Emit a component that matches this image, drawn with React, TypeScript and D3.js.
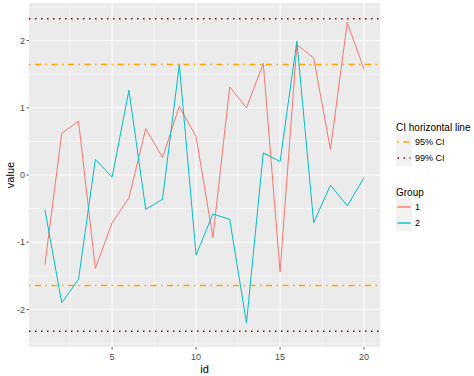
import React from "react";
import * as d3 from "d3";

const ids = d3.range(1, 21);
const group1 = [-1.33, 0.62, 0.80, -1.39, -0.71, -0.34, 0.69, 0.26, 1.02, 0.57, -0.93, 1.31, 1.00, 1.66, -1.44, 1.94, 1.74, 0.38, 2.27, 1.57];
const group2 = [-0.52, -1.90, -1.55, 0.23, -0.03, 1.26, -0.51, -0.36, 1.64, -1.19, -0.58, -0.66, -2.20, 0.33, 0.20, 1.99, -0.71, -0.15, -0.46, -0.04];
const groupNames = ["1", "2"];
const groupColors = ["#F8766D", "#00BFC4"];
const ciNames = ["95% CI", "99% CI"];
const ciValues = [1.645, 2.326];
const ciColors = ["#FFA500", "#8B0000"];
const ciDash = ["1.5,4.5,6,4.5", "1.5,4.5"];
const xTicks = [5, 10, 15, 20];
const yTicks = [-2, -1, 0, 1, 2];

const W = 474, H = 376;
const L = 29, R = 380, T = 3, B = 347;

export default function App() {
  const x = d3.scaleLinear().domain([0.05, 20.95]).range([L, R]);
  const lim = 2.326 * 1.1;
  const y = d3.scaleLinear().domain([-lim, lim]).range([B, T]);
  const line = d3.line<number>().x((_, i) => x(ids[i])).y((d) => y(d));
  const xMinor = [2.5, 7.5, 12.5, 17.5];
  const yMinor = [-2.5, -1.5, -0.5, 0.5, 1.5, 2.5].filter((v) => y(v) > T && y(v) < B);
  const font = "'Liberation Sans', Arial, sans-serif";
  const series = [group1, group2];
  const legX = 396;
  return (
    <svg width={W} height={H} style={{ position: "absolute", left: 0, top: 0 }} fontFamily={font}>
      <rect x={0} y={0} width={W} height={H} fill="#fff" />
      <rect x={L} y={T} width={R - L} height={B - T} fill="#EBEBEB" />
      {yMinor.map((v) => (
        <line key={"ym" + v} x1={L} x2={R} y1={y(v)} y2={y(v)} stroke="#fff" strokeWidth={0.5} />
      ))}
      {xMinor.map((v) => (
        <line key={"xm" + v} x1={x(v)} x2={x(v)} y1={T} y2={B} stroke="#fff" strokeWidth={0.5} />
      ))}
      {yTicks.map((v) => (
        <line key={"yM" + v} x1={L} x2={R} y1={y(v)} y2={y(v)} stroke="#fff" strokeWidth={1} />
      ))}
      {xTicks.map((v) => (
        <line key={"xM" + v} x1={x(v)} x2={x(v)} y1={T} y2={B} stroke="#fff" strokeWidth={1} />
      ))}
      {ciValues.map((v, i) =>
        [v, -v].map((vv) => (
          <line key={"ci" + i + vv} x1={L} x2={R} y1={y(vv)} y2={y(vv)} stroke={ciColors[i]} strokeWidth={1.5} strokeDasharray={ciDash[i]} />
        ))
      )}
      {series.map((s, i) => (
        <path key={"s" + i} d={line(s) || ""} fill="none" stroke={groupColors[i]} strokeWidth={1} />
      ))}
      {yTicks.map((v) => (
        <g key={"yt" + v}>
          <line x1={L - 2.5} x2={L} y1={y(v)} y2={y(v)} stroke="#333" strokeWidth={0.8} />
          <text x={L - 4} y={y(v)} dy="0.35em" textAnchor="end" fontSize={9} fill="#4D4D4D">{v < 0 ? "-" + Math.abs(v) : v}</text>
        </g>
      ))}
      {xTicks.map((v) => (
        <g key={"xt" + v}>
          <line x1={x(v)} x2={x(v)} y1={B} y2={B + 2.5} stroke="#333" strokeWidth={0.8} />
          <text x={x(v)} y={B + 13} textAnchor="middle" fontSize={9} fill="#4D4D4D">{v}</text>
        </g>
      ))}
      <text x={(L + R) / 2} y={373} textAnchor="middle" fontSize={11} fill="#000">id</text>
      <text transform={`translate(14,${(T + B) / 2}) rotate(-90)`} textAnchor="middle" fontSize={11} fill="#000">value</text>

      <text x={legX} y={131} fontSize={10} fill="#000">CI horizontal line</text>
      {ciNames.map((n, i) => (
        <g key={"cl" + i} transform={`translate(${legX},${134 + i * 16})`}>
          <rect width={16} height={16} fill="#F2F2F2" />
          <line x1={1.5} x2={14.5} y1={8} y2={8} stroke={ciColors[i]} strokeWidth={1.5} strokeDasharray={ciDash[i]} />
          <text x={19} y={8} dy="0.35em" fontSize={9} fill="#000">{n}</text>
        </g>
      ))}
      <text x={legX} y={196} fontSize={10} fill="#000">Group</text>
      {groupNames.map((n, i) => (
        <g key={"gl" + i} transform={`translate(${legX},${199 + i * 16})`}>
          <rect width={16} height={16} fill="#F2F2F2" />
          <line x1={1.5} x2={14.5} y1={8} y2={8} stroke={groupColors[i]} strokeWidth={1.4} />
          <text x={19} y={8} dy="0.35em" fontSize={9} fill="#000">{n}</text>
        </g>
      ))}
    </svg>
  );
}
